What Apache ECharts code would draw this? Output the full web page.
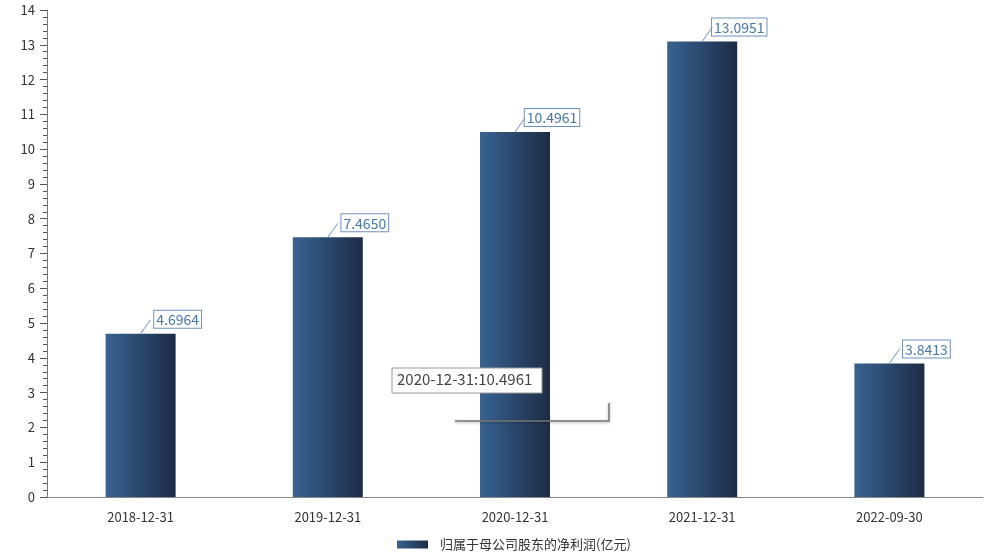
<!DOCTYPE html>
<html>
<head>
<meta charset="utf-8">
<script src="https://cdn.jsdelivr.net/npm/echarts@6/dist/echarts.min.js"></script>
<style>
	html, body { margin: 0; padding: 0; background: #fff; }
	#main { width: 1000px; height: 560px; }
</style>
</head>
<body>
<div id="main"></div>
<script>
	// 数据
	var categories = ['2018-12-31', '2019-12-31', '2020-12-31', '2021-12-31', '2022-09-30'];
	var profitValues = [4.6964, 7.4650, 10.4961, 13.0951, 3.8413];
	var seriesName = '归属于母公司股东的净利润(亿元)';
	var tipText = '2020-12-31:10.4961';

	var font = '"Microsoft YaHei", "Noto Sans CJK SC", sans-serif';
	var guideColor = '#6f92bd';

	var chart = echarts.init(document.getElementById('main'));

	var option = {
		animation: false,
		textStyle: { fontFamily: font },
		grid: {
			left: 47,
			right: 17,
			top: 10,
			bottom: 63
		},
		legend: {
			bottom: 4,
			left: 392,
			itemWidth: 31,
			itemHeight: 8,
			icon: 'rect',
			textStyle: { color: '#333', fontSize: 13, fontFamily: font, padding: [0, 0, 0, 7] },
			data: [seriesName]
		},
		xAxis: {
			type: 'category',
			data: categories,
			axisTick: { alignWithLabel: true, length: 6, lineStyle: { color: '#777' } },
			axisLine: { lineStyle: { color: '#888', width: 1 } },
			axisLabel: { color: '#333', fontSize: 13, margin: 14 }
		},
		yAxis: {
			type: 'value',
			min: 0,
			max: 14,
			interval: 1,
			splitLine: { show: false },
			axisLine: { show: true, lineStyle: { color: '#777' } },
			axisTick: { show: true, length: 7, lineStyle: { color: '#555' } },
			minorTick: { show: true, splitNumber: 5, length: 4, lineStyle: { color: '#555' } },
			axisLabel: { color: '#333', fontSize: 13, margin: 12 }
		},
		series: [{
			name: seriesName,
			type: 'bar',
			barWidth: 70,
			data: profitValues,
			itemStyle: {
				color: new echarts.graphic.LinearGradient(0, 0, 1, 0, [
					{ offset: 0, color: '#386392' },
					{ offset: 1, color: '#1d2c45' }
				])
			},
			label: {
				show: true,
				position: 'top',
				distance: 4,
				formatter: function (p) { return p.value.toFixed(4); },
				color: '#4a78ad',
				fontSize: 14,
				backgroundColor: '#fff',
				borderColor: guideColor,
				borderWidth: 1,
				padding: [2, 2, 1, 2]
			},
			labelLayout: { dx: 37, dy: -2 },
			z: 2
		}, {
			// 标签引导线：柱顶中心 -> 标签框左侧
			type: 'custom',
			silent: true,
			data: [],
			z: 3,
			renderItem: function (params, api) {
				var p = api.coord([api.value(0), api.value(1)]);
				return {
					type: 'line',
					shape: { x1: p[0], y1: p[1], x2: p[0] + 10, y2: p[1] - 14 },
					style: { stroke: guideColor, lineWidth: 1 }
				};
			},
			encode: { x: 0, y: 1 }
		}],
		graphic: [{
			type: 'polyline',
			shape: { points: [[455, 421], [609, 421], [609, 403]] },
			style: {
				fill: null,
				stroke: '#777',
				lineWidth: 1.5,
				shadowBlur: 3,
				shadowColor: 'rgba(0,0,0,0.35)',
				shadowOffsetY: 1
			},
			z: 100
		}, {
			type: 'rect',
			shape: { x: 392, y: 368, width: 150, height: 25 },
			style: { fill: '#fff', stroke: '#999', lineWidth: 1 },
			z: 101
		}, {
			type: 'text',
			x: 397,
			y: 372,
			style: { text: tipText, fill: '#444', font: '15px ' + font, width: 145, overflow: 'truncate', ellipsis: '' },
			z: 102
		}]
	};

	// custom 系列需要 [index, value] 形式
	option.series[1].data = profitValues.map(function (v, i) { return [i, v]; });

	chart.setOption(option);
</script>
</body>
</html>
